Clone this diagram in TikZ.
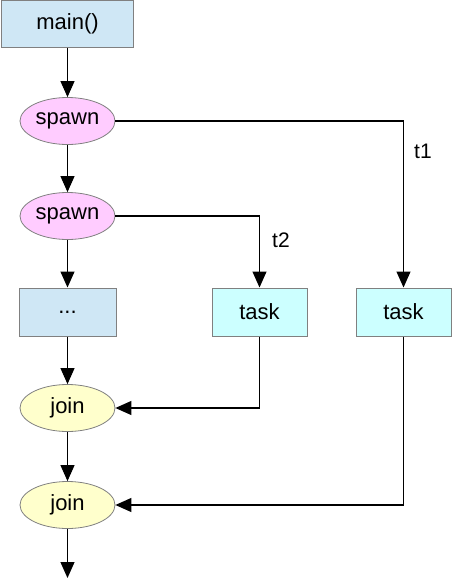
\documentclass[tikz,border=0pt]{standalone}
\usepackage{fontspec}
\setmainfont{Liberation Sans}
\usetikzlibrary{shapes.geometric,arrows.meta}
\definecolor{boxblue}{HTML}{CFE7F5}
\definecolor{spawnpink}{HTML}{FFCCFF}
\definecolor{taskcyan}{HTML}{CCFFFF}
\definecolor{joinyellow}{HTML}{FFFFCC}
\definecolor{edgegray}{HTML}{808080}
\begin{document}
\begin{tikzpicture}[x=1pt,y=-1pt,
  every node/.style={font=\fontsize{22}{26}\selectfont, inner sep=0pt},
  rbox/.style={draw=edgegray, line width=1pt, rectangle, minimum height=48pt},
  oval/.style={draw=edgegray, line width=0.8pt, ellipse, minimum width=95pt, minimum height=47pt},
  flow/.style={draw=black, line width=1.1pt, -{Triangle[length=16pt,width=14pt]}},
  lbl/.style={font=\fontsize{21}{24}\selectfont}]
\useasboundingbox (0,0) rectangle (451,578);
\node[rbox, fill=boxblue, minimum width=132pt, minimum height=47pt] (main) at (67.5,24) {main()};
\node[oval, fill=spawnpink] (spawn1) at (67.5,121) {spawn};
\node[oval, fill=spawnpink] (spawn2) at (67.5,216) {spawn};
\node[rbox, fill=boxblue, minimum width=97pt] (dots) at (67.5,312) {...};
\node[rbox, fill=taskcyan, minimum width=95pt] (task1) at (259.5,312) {task};
\node[rbox, fill=taskcyan, minimum width=95pt] (task2) at (403.5,312) {task};
\node[oval, fill=joinyellow] (join1) at (67.5,408) {join};
\node[oval, fill=joinyellow] (join2) at (67.5,505) {join};
\coordinate (end) at (67.5,578);
\node[lbl] (t1) at (423,151) {t1};
\node[lbl] (t2) at (281,240) {t2};
\draw[flow] (main) -- (spawn1);
\draw[flow] (spawn1) -- (spawn2);
\draw[flow] (spawn2) -- (dots);
\draw[flow] (dots) -- (join1);
\draw[flow] (join1) -- (join2);
\draw[flow] (join2) -- (end);
\draw[flow] (spawn1.east) -| (task2.north);
\draw[flow] (spawn2.east) -| (task1.north);
\draw[flow] (task1.south) |- (join1.east);
\draw[flow] (task2.south) |- (join2.east);
\end{tikzpicture}
\end{document}
